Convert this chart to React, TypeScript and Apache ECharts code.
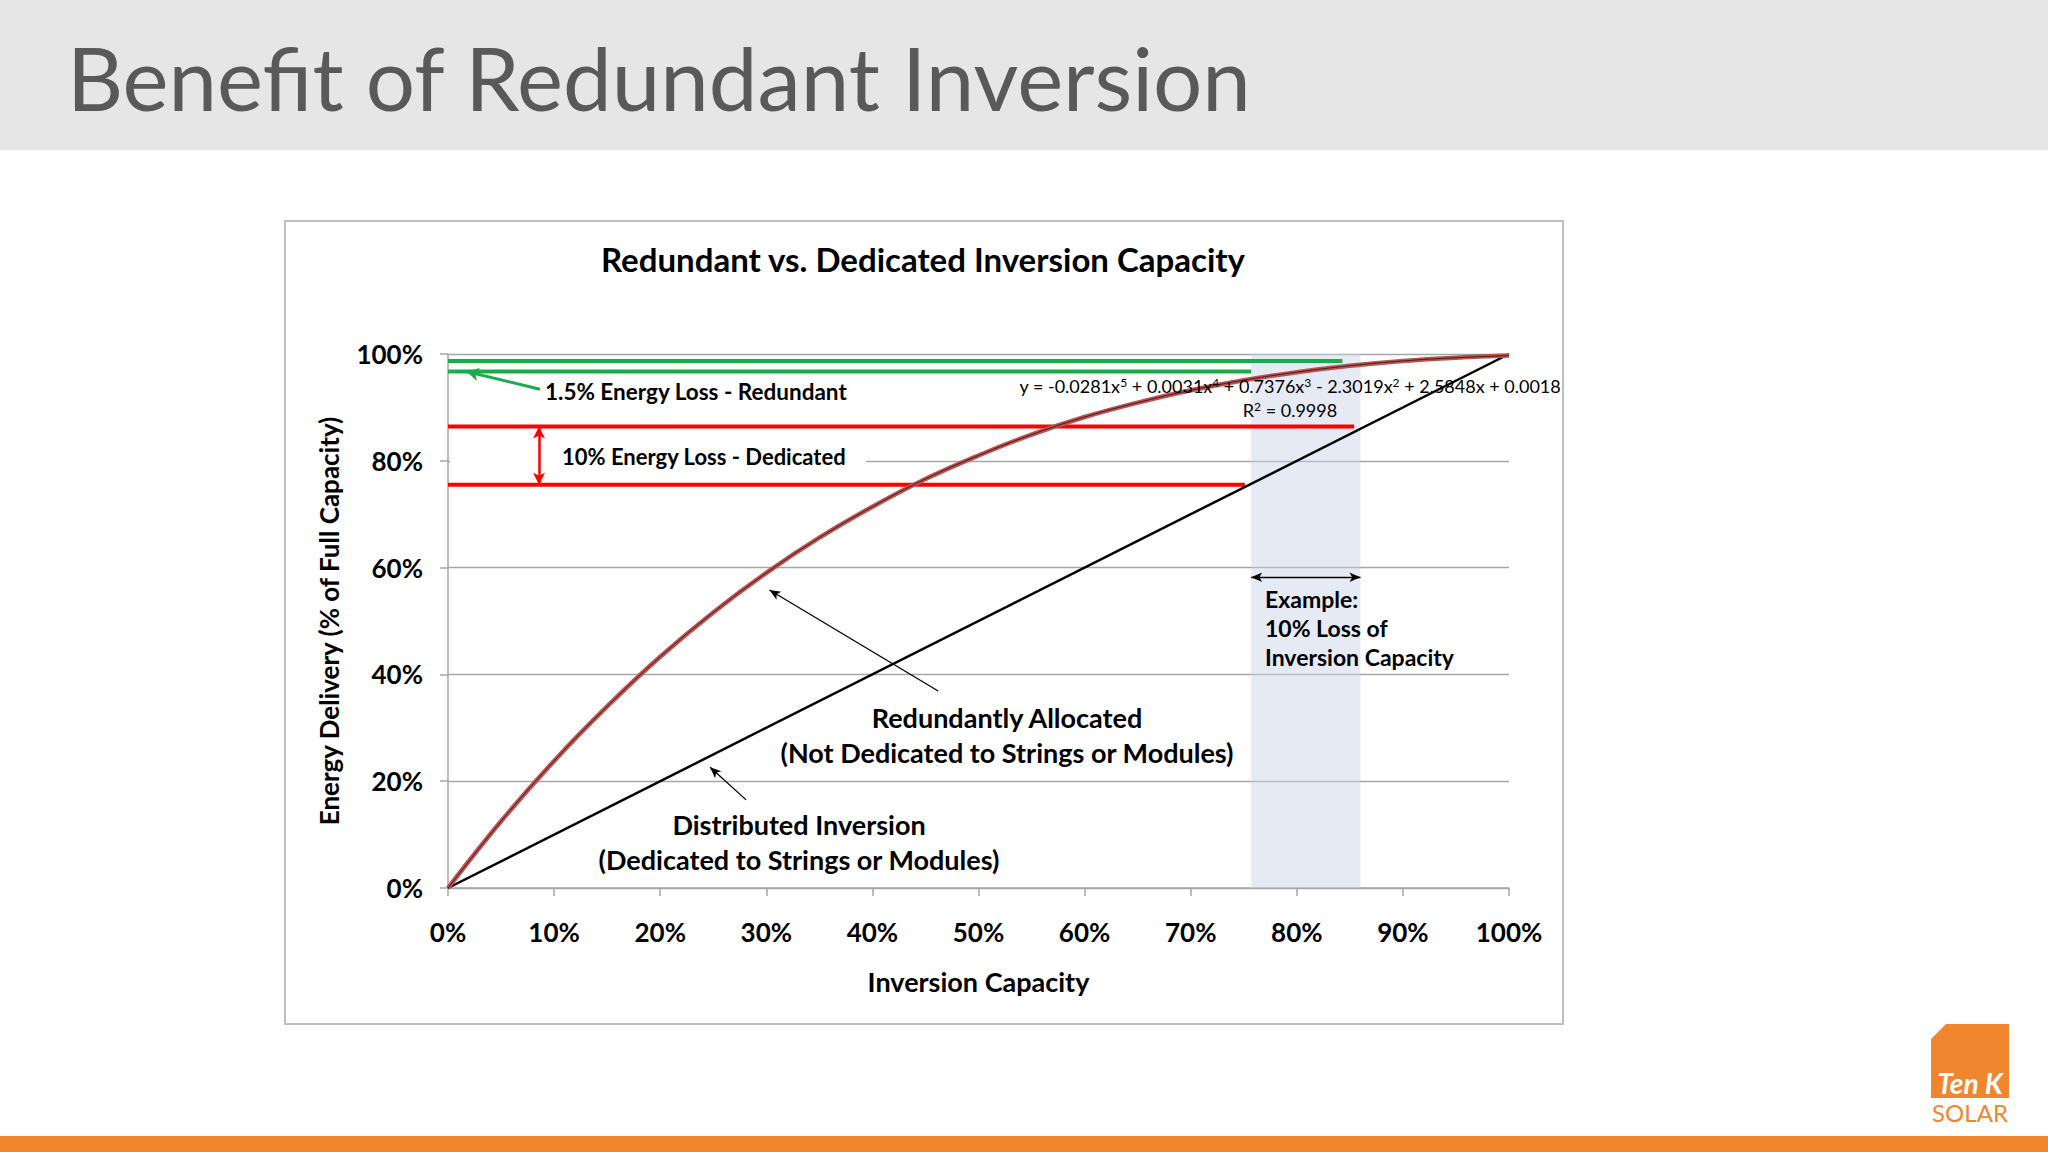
import React, { useEffect, useRef } from "react";
import * as echarts from "echarts";

// ---------- data ----------
const X_PCT = [0, 5, 10, 15, 20, 25, 30, 35, 40, 45, 50, 55, 60, 65, 70, 75, 80, 85, 90, 95, 100];
const REDUNDANT = [0, 12.5, 23.8, 34.0, 43.3, 51.6, 59.0, 65.6, 71.4, 76.6, 81.0, 84.9, 88.2, 90.9, 93.2, 95.1, 96.6, 97.8, 98.7, 99.3, 99.7];
const DIST_X = [0, 100];
const DIST_Y = [0, 100];
const GREEN_LEVELS = [98.7, 96.7];
const GREEN_ENDS = [84.3, 75.7];
const RED_LEVELS = [86.4, 75.5];
const RED_ENDS = [85.4, 75.1];
const SHADE_RANGE = [75.7, 86.0];
const X_TICK_STEP = 10;
const Y_TICK_STEP = 20;
// annotation arrows (data coords: [x%, y%])
const GREEN_ARROW = [[8.67, 93.4], [1.76, 96.7]];
const RED_ARROW = [[8.58, 86.4], [8.58, 75.5]];
const REDUNDANT_ARROW = [[46.2, 36.9], [30.3, 55.8]];
const DIST_ARROW = [[28.1, 16.5], [24.7, 22.6]];
const EXAMPLE_ARROW = [[75.7, 58.2], [86.0, 58.2]];

const FONT = "Lato, 'Open Sans', sans-serif";

function hline(level: number, end: number) {
  return [[0, level], [end, level]];
}

export default function App() {
  const ref = useRef<HTMLDivElement>(null);
  useEffect(() => {
    document.body.style.margin = "0";
    const chart = echarts.init(ref.current as HTMLDivElement, null, { renderer: "svg" });
    const axisColor = "#a6a6a6";
    const tickLabel = { fontFamily: FONT, fontWeight: "bold", fontSize: 26, color: "#000" };
    const lineSeries = (name: string, data: any, color: string, width: number, z: number, extra: any = {}) => ({
      name,
      type: "line",
      data,
      showSymbol: false,
      symbol: "none",
      smooth: false,
      z,
      lineStyle: { color, width },
      emphasis: { disabled: true },
      silent: true,
      ...extra,
    });
    const arrowMark = (pts: number[][], color: string, width: number, symbols: string[], size: any) => ({
      silent: true,
      symbol: symbols,
      symbolSize: size,
      label: { show: false },
      emphasis: { disabled: true },
      lineStyle: { color, width, type: "solid" },
      data: [[{ coord: pts[0] }, { coord: pts[1] }]],
    });
    const boldText = (t: string, x: number, y: number, size: number, align = "left") => ({
      type: "text",
      z: 10,
      style: {
        text: t,
        x,
        y,
        fontFamily: FONT,
        fontWeight: "bold",
        fontSize: size,
        fill: "#000",
        align,
        verticalAlign: "middle",
      },
    });
    const eqRich = { s: { fontFamily: FONT, fontSize: 12, verticalAlign: "top", lineHeight: 12, fill: "#000" } };

    const option: any = {
      animation: false,
      backgroundColor: "#ffffff",
      grid: { left: 448, top: 354, width: 1061, height: 534, containLabel: false, outerBoundsMode: "none" },
      xAxis: {
        type: "value",
        min: 0,
        max: 100,
        interval: X_TICK_STEP,
        name: "Inversion Capacity",
        nameLocation: "middle",
        nameGap: 80,
        nameTextStyle: { fontFamily: FONT, fontWeight: "bold", fontSize: 27, color: "#000" },
        axisLine: { show: true, lineStyle: { color: axisColor, width: 1.5 } },
        axisTick: { show: true, inside: false, length: 8, lineStyle: { color: axisColor, width: 1.5 } },
        axisLabel: { ...tickLabel, formatter: "{value}%", margin: 31 },
        splitLine: { show: false },
      },
      yAxis: {
        type: "value",
        min: 0,
        max: 100,
        interval: Y_TICK_STEP,
        name: "Energy Delivery (% of Full Capacity)",
        nameLocation: "middle",
        nameRotate: 90,
        nameGap: 106,
        nameTextStyle: { fontFamily: FONT, fontWeight: "bold", fontSize: 26, color: "#000" },
        axisLine: { show: true, lineStyle: { color: axisColor, width: 1.5 } },
        axisTick: { show: true, inside: false, length: 8, lineStyle: { color: axisColor, width: 1.5 } },
        axisLabel: { ...tickLabel, formatter: "{value}%", margin: 25 },
        splitLine: { show: true, lineStyle: { color: axisColor, width: 1.3 } },
      },
      series: [
        {
          name: "shade",
          type: "line",
          data: [],
          silent: true,
          markArea: {
            silent: true,
            itemStyle: { color: "rgba(200,208,232,0.45)" },
            emphasis: { disabled: true },
            data: [[{ xAxis: SHADE_RANGE[0] }, { xAxis: SHADE_RANGE[1] }]],
          },
        },
        lineSeries("redUpper", hline(RED_LEVELS[0], RED_ENDS[0]), "#ff0000", 4, 3, {
          markLine: arrowMark(RED_ARROW, "#ff0000", 2.5, ["arrow", "arrow"], [9, 12]),
        }),
        lineSeries("redLower", hline(RED_LEVELS[1], RED_ENDS[1]), "#ff0000", 4, 3),
        lineSeries("greenUpper", hline(GREEN_LEVELS[0], GREEN_ENDS[0]), "#1aab4b", 4, 3),
        lineSeries("greenLower", hline(GREEN_LEVELS[1], GREEN_ENDS[1]), "#1aab4b", 4, 3, {
          markLine: arrowMark(GREEN_ARROW, "#1aab4b", 3, ["none", "arrow"], [10, 12]),
        }),
        lineSeries("Distributed Inversion", DIST_X.map((x, i) => [x, DIST_Y[i]]), "#000000", 2.5, 4, {
          markLine: {
            silent: true,
            symbol: ["none", "arrow"],
            symbolSize: [7, 11],
            label: { show: false },
            emphasis: { disabled: true },
            lineStyle: { color: "#000", width: 1.3, type: "solid" },
            data: [
              [{ coord: REDUNDANT_ARROW[0] }, { coord: REDUNDANT_ARROW[1] }],
              [{ coord: DIST_ARROW[0] }, { coord: DIST_ARROW[1] }],
              [
                { coord: EXAMPLE_ARROW[0], symbol: "arrow" },
                { coord: EXAMPLE_ARROW[1], symbol: "arrow" },
              ],
            ],
          },
        }),
        lineSeries("Redundantly Allocated", X_PCT.map((x, i) => [x, REDUNDANT[i]]), "#c0504d", 4.5, 5, { smooth: 0.4 }),
        lineSeries("Trend", X_PCT.map((x, i) => [x, REDUNDANT[i]]), "#202020", 0.9, 6, { smooth: 0.4 }),
      ],
      graphic: {
        elements: [
          { type: "rect", z: 0, shape: { x: 0, y: 0, width: 2048, height: 150 }, style: { fill: "#e6e6e6" } },
          {
            type: "text",
            z: 10,
            style: {
              text: "Benefit of Redundant Inversion",
              x: 67,
              y: 77,
              fontFamily: FONT,
              fontSize: 87,
              fill: "#595959",
              align: "left",
              verticalAlign: "middle",
            },
          },
          {
            type: "rect",
            z: 0,
            shape: { x: 285, y: 221, width: 1278, height: 803 },
            style: { fill: "none", stroke: "#bfbfbf", lineWidth: 2 },
          },
          boldText("Redundant vs. Dedicated Inversion Capacity", 923, 259, 33, "center"),
          boldText("1.5% Energy Loss - Redundant", 545, 391, 22.5),
          { type: "rect", z: 1, shape: { x: 450, y: 443, width: 416, height: 28 }, style: { fill: "#ffffff" } },
          boldText("10% Energy Loss - Dedicated", 562, 456, 22),
          {
            type: "text",
            z: 10,
            style: {
              text: "y = -0.0281x{s|5} + 0.0031x{s|4} + 0.7376x{s|3} - 2.3019x{s|2} + 2.5848x + 0.0018",
              x: 1290,
              y: 386,
              fontFamily: FONT,
              fontSize: 18,
              lineHeight: 20,
              fill: "#000",
              align: "center",
              verticalAlign: "middle",
              rich: eqRich,
            },
          },
          {
            type: "text",
            z: 10,
            style: {
              text: "R{s|2} = 0.9998",
              x: 1290,
              y: 410,
              fontFamily: FONT,
              fontSize: 18,
              lineHeight: 20,
              fill: "#000",
              align: "center",
              verticalAlign: "middle",
              rich: eqRich,
            },
          },
          boldText("Example:", 1265, 599, 23),
          boldText("10% Loss of", 1265, 628, 23),
          boldText("Inversion Capacity", 1265, 657, 23),
          boldText("Redundantly Allocated", 1007, 717, 27, "center"),
          boldText("(Not Dedicated to Strings or Modules)", 1007, 752, 27, "center"),
          boldText("Distributed Inversion", 799, 824, 27, "center"),
          boldText("(Dedicated to Strings or Modules)", 799, 859, 27, "center"),
          // logo
          {
            type: "polygon",
            z: 10,
            shape: { points: [[1931, 1039], [1946, 1024], [2009, 1024], [2009, 1098], [1931, 1098]] },
            style: { fill: "#f0862e" },
          },
          {
            type: "text",
            z: 11,
            style: {
              text: "Ten K",
              x: 1970,
              y: 1083,
              fontFamily: FONT,
              fontWeight: "bold",
              fontStyle: "italic",
              fontSize: 28,
              lineHeight: 26,
              fill: "#ffffff",
              align: "center",
              verticalAlign: "middle",
            },
          },
          {
            type: "text",
            z: 11,
            style: {
              text: "SOLAR",
              x: 1970,
              y: 1112,
              fontFamily: FONT,
              fontSize: 24,
              lineHeight: 22,
              fill: "#f0862e",
              align: "center",
              verticalAlign: "middle",
            },
          },
          { type: "rect", z: 10, shape: { x: 0, y: 1136, width: 2048, height: 16 }, style: { fill: "#f0862e" } },
        ],
      },
    };
    chart.setOption(option);
    return () => chart.dispose();
  }, []);
  return <div ref={ref} style={{ width: 2048, height: 1152 }} />;
}
